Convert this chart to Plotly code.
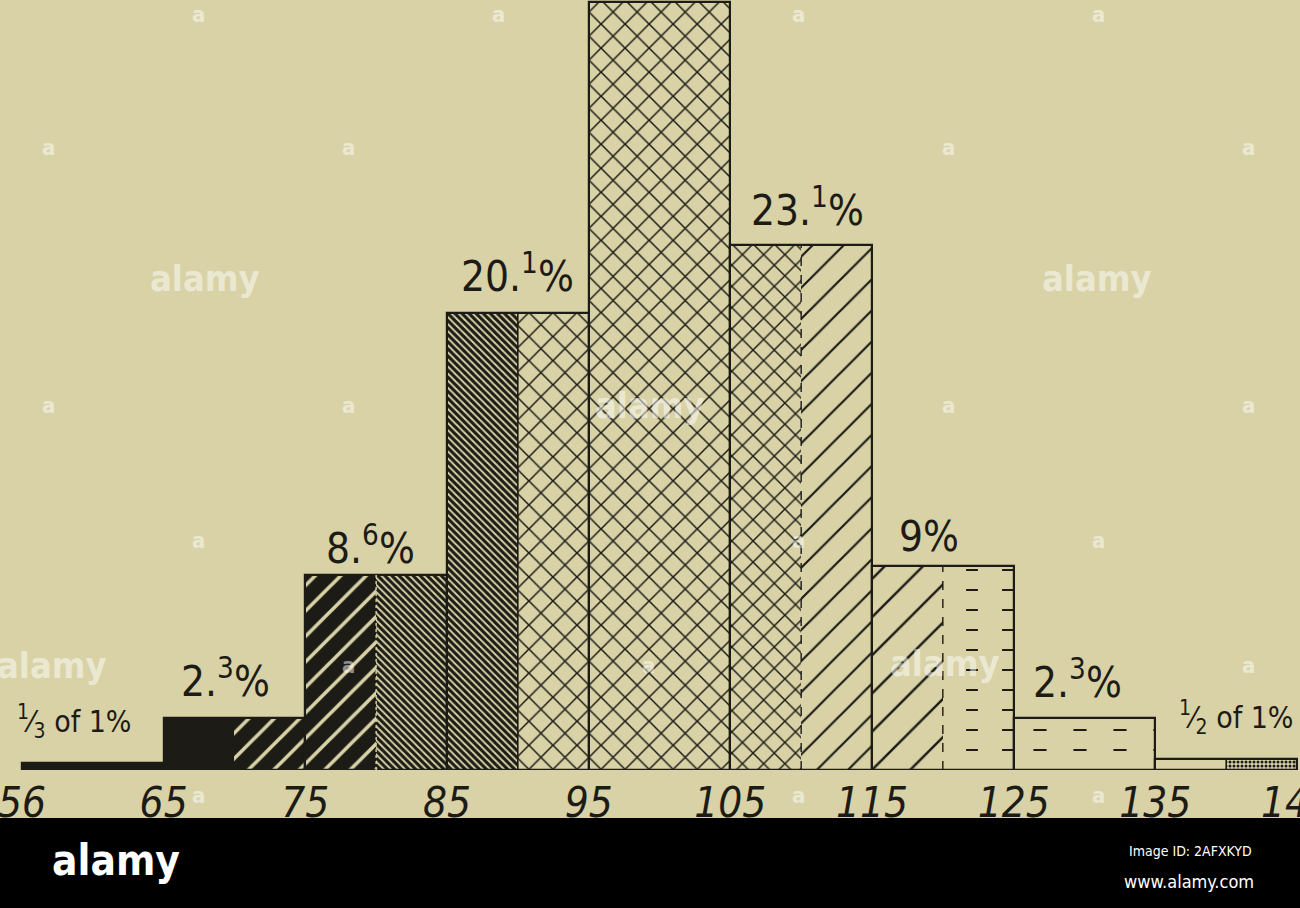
import plotly.graph_objects as go

# ---------------- data ----------------
edge_labels = ["56", "65", "75", "85", "95", "105", "115", "125", "135", "145"]
percent = [0.33, 2.3, 8.6, 20.1, 33.8, 23.1, 9.0, 2.3, 0.5]
value_labels = [
    "<sup>1</sup>⁄<sub>3</sub> of 1%",
    "2.<sup>3</sup>%",
    "8.<sup>6</sup>%",
    "20.<sup>1</sup>%",
    "",
    "23.<sup>1</sup>%",
    "9%",
    "2.<sup>3</sup>%",
    "<sup>1</sup>⁄<sub>2</sub> of 1%",
]

# ---------------- styles ----------------
PAPER = "#d8d2a6"
INK = "#1c1b16"
CLEAR = "rgba(0,0,0,0)"
FONT = "Liberation Sans Narrow, DejaVu Sans Condensed, Arial Narrow, sans-serif"

# (shape, fg, bg, size, solidity, dash_break_size)
SOLID = ("/", INK, INK, 8, 0.5, None)
WHITE_DIAG = ("/", PAPER, INK, 18, 0.2, None)
DENSE_BACK = ("\\", INK, PAPER, 5, 0.62, None)
CROSS = ("x", INK, PAPER, 17, 0.17, None)
CROSS_S = ("x", INK, PAPER, 15, 0.18, None)
DIAG = ("/", INK, PAPER, 22, 0.1, None)
DIAG_W = ("/", INK, PAPER, 27, 0.09, None)
DASH = ("-", INK, PAPER, 20, 0.1, 36)
DASH_L = ("-", INK, PAPER, 20, 0.1, 40)
DOTS = (".", INK, PAPER, 4, 0.45, None)

left_styles = [SOLID, SOLID, WHITE_DIAG, DENSE_BACK, CROSS, CROSS_S, DIAG_W, DASH_L, DASH]
right_styles = [SOLID, WHITE_DIAG, DENSE_BACK, CROSS, CROSS, DIAG, DASH, DASH_L, DOTS]

# per-label nudges (pixels) and sizes for the value labels
label_xshift = [-18, -9, -6, 0, 0, 6, -14, -7, 10]
label_yshift = [18, 10, 0, 10, 0, 8, 3, 9, 18]
label_size = [30, 42, 42, 42, 42, 42, 42, 42, 30]

hx, hy, shp, fg, bg, sz, sol = [], [], [], [], [], [], []
bshape, bsize, bsol = [], [], []
for i, v in enumerate(percent):
    for off, st in ((0.25, left_styles[i]), (0.75, right_styles[i])):
        s, f, b, z, so, br = st
        hx.append(i + off)
        hy.append(v)
        shp.append(s)
        fg.append(f)
        bg.append(b)
        sz.append(z)
        sol.append(so)
        if br:
            bshape.append("|")
            bsize.append(br)
            bsol.append(0.67)
        else:
            bshape.append("")
            bsize.append(8)
            bsol.append(0.5)

fig = go.Figure()

# half-bar fills
fig.add_trace(go.Bar(
    x=hx, y=hy, width=0.5,
    marker=dict(color=PAPER, line=dict(width=0),
                pattern=dict(shape=shp, fgcolor=fg, bgcolor=bg, size=sz,
                             solidity=sol, fillmode="replace")),
    hoverinfo="skip", showlegend=False,
))
# beige stripes that break horizontal lines into dashes
fig.add_trace(go.Bar(
    x=hx, y=hy, width=0.5,
    marker=dict(color=CLEAR, line=dict(width=0),
                pattern=dict(shape=bshape, fgcolor=PAPER, bgcolor=CLEAR,
                             size=bsize, solidity=bsol, fillmode="replace")),
    hoverinfo="skip", showlegend=False,
))

# inner dividers between the two halves of a bin
def divider(idx, color, dash, width):
    xs, ys = [], []
    for i in idx:
        xs += [i + 0.5, i + 0.5, None]
        ys += [0, percent[i], None]
    return go.Scatter(x=xs, y=ys, mode="lines",
                      line=dict(color=color, dash=dash, width=width),
                      hoverinfo="skip", showlegend=False)

fig.add_trace(divider([3, 8], INK, "solid", 1.6))
fig.add_trace(divider([5, 6], INK, "dash", 1.4))
fig.add_trace(divider([2], PAPER, "dot", 1.4))

# bin outlines
fig.add_trace(go.Bar(
    x=[i + 0.5 for i in range(len(percent))], y=percent, width=1,
    marker=dict(color=CLEAR, line=dict(color=INK, width=2.2)),
    hoverinfo="skip", showlegend=False,
))

annotations = []
for i, (v, t) in enumerate(zip(percent, value_labels)):
    if not t:
        continue
    annotations.append(dict(
        text=t, x=i + 0.5, y=v, xref="x", yref="y", showarrow=False,
        xanchor="center", yanchor="bottom",
        xshift=label_xshift[i], yshift=label_yshift[i],
        font=dict(family=FONT, size=label_size[i], color=INK),
    ))

# ---------------- decorations (stock-photo band and watermarks) ----------------
PLOT_H = 770.0

def px_x(p):
    return p / 1300.0

def px_y(p):
    return (PLOT_H - p) / PLOT_H

shapes = [dict(type="rect", xref="paper", yref="paper",
               x0=-0.01, x1=1.01, y0=px_y(912), y1=px_y(818),
               fillcolor="#000000", line=dict(width=0), layer="above")]

BAND_FONT = "DejaVu Sans Condensed, Liberation Sans Narrow, sans-serif"
deco = [
    dict(text="<b>alamy</b>", x=px_x(50), y=px_y(860), xanchor="left", yanchor="middle",
         font=dict(family=BAND_FONT, size=42, color="white")),
    dict(text="Image ID: 2AFXKYD", x=px_x(1254), y=px_y(851), xanchor="right", yanchor="middle",
         font=dict(family=BAND_FONT, size=14, color="white")),
    dict(text="www.alamy.com", x=px_x(1256), y=px_y(881), xanchor="right", yanchor="middle",
         font=dict(family=BAND_FONT, size=18, color="white")),
]
WM = "rgba(255,255,255,0.5)"
for (wx, wy) in [(205, 278), (1097, 278), (650, 405), (52, 665), (945, 663)]:
    deco.append(dict(text="<b>alamy</b>", x=px_x(wx), y=px_y(wy), xanchor="center",
                     yanchor="middle",
                     font=dict(family=BAND_FONT, size=36, color=WM)))
for (wx, wy) in [(198, 15), (498, 15), (798, 15), (1098, 15),
                 (48, 148), (348, 148), (948, 148), (1248, 148),
                 (48, 405), (348, 405), (948, 405), (1248, 405),
                 (198, 540), (798, 540), (1098, 540), (1248, 665),
                 (348, 665), (648, 665), (198, 795), (798, 795), (1098, 795)]:
    deco.append(dict(text="<b>a</b>", x=px_x(wx), y=px_y(wy), xanchor="center",
                     yanchor="middle",
                     font=dict(family=BAND_FONT, size=22, color=WM)))
for a in deco:
    a.update(xref="paper", yref="paper", showarrow=False)
annotations += deco

fig.update_layout(
    width=1300, height=908,
    margin=dict(l=0, r=0, t=0, b=138, pad=0, autoexpand=False),
    paper_bgcolor=PAPER, plot_bgcolor=PAPER,
    barmode="overlay", bargap=0,
    shapes=shapes, annotations=annotations,
    xaxis=dict(range=[-0.155, 9.021], tickmode="array",
               tickvals=list(range(len(edge_labels))), ticktext=edge_labels,
               showgrid=False, zeroline=False, showline=False, ticks="",
               ticklabelstandoff=4, ticklabeloverflow="allow", automargin=False,
               tickfont=dict(family=FONT, size=42, color=INK, style="italic"),
               fixedrange=True),
    yaxis=dict(range=[0, 33.9], visible=False, fixedrange=True, automargin=False),
)

fig.write_html("out.html", config={"displayModeBar": False},
               post_script="document.body.style.margin='0';document.body.style.background='#d8d2a6';")
